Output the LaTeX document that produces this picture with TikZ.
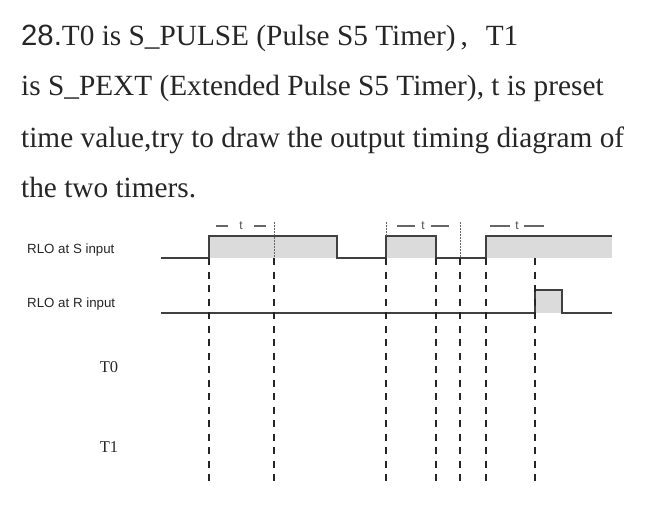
\documentclass[tikz,border=0pt]{standalone}
\usepackage{fontspec}
\setmainfont{Liberation Serif}
\newfontfamily\sansfont{Liberation Sans}
\usetikzlibrary{positioning}

\tikzset{
  sig/.style={line width=1.4pt, draw=black!75},
  hi/.style={fill=black!14},
  cut/.style={line width=1.8pt, draw=black!85, dash pattern=on 7pt off 6.5pt},
  tick/.style={line width=0.7pt, draw=black!60, dash pattern=on 1.5pt off 1.5pt},
  tmark/.style={line width=1.2pt, draw=black!60},
  txtline/.style={anchor=base west, inner sep=0pt, font=\fontsize{29.3}{30}\selectfont, text=black!85},
  siglabel/.style={anchor=base west, inner sep=0pt, font=\sansfont\fontsize{13.3}{14}\selectfont, text=black!85},
  outlabel/.style={inner sep=0pt, font=\fontsize{16.5}{17}\selectfont, text=black!85}
}

\begin{document}
\begin{tikzpicture}[x=1pt,y=-1pt]
\useasboundingbox (0,0) rectangle (654,528);
% question
\node[txtline] (q1) at (21,45) {{\sansfont 28.}T0 is S\_PULSE (Pulse S5 Timer)\,,\hspace{18pt}T1};
\node[txtline] (q2) at (21,95) {is S\_PEXT (Extended Pulse S5 Timer), t is preset};
\node[txtline] (q3) at (21,147) {time value,try to draw the output timing diagram of};
\node[txtline] (q4) at (21,197) {the two timers.};
% signal names
\node[siglabel] (slabel) at (27,253) {RLO at S input};
\node[siglabel] (rlabel) at (27,307) {RLO at R input};
\node[outlabel] (tzero) at (109,367.5) {T0};
\node[outlabel] (tone) at (109,447.5) {T1};
% shaded high levels
\fill[hi] (209,236) rectangle (337,258);
\fill[hi] (386,236) rectangle (436,258);
\fill[hi] (486,236) rectangle (612,258);
\fill[hi] (535,290) rectangle (562,313);
% S input
\draw[sig] (161,258) -- (209,258) -- (209,236) -- (337,236) -- (337,258) -- (386,258)
  -- (386,236) -- (436,236) -- (436,258) -- (486,258) -- (486,236) -- (612,236);
% R input
\draw[sig] (161,313) -- (535,313) -- (535,290) -- (562,290) -- (562,313) -- (612,313);
% time t
\draw[tick] (274,222) -- (274,258);
\draw[tick] (386,222) -- (386,236);
\draw[tick] (460,222) -- (460,258);
\foreach \a/\b/\c in {216/228/241, 397/415/423, 490/510/517}{
  \draw[tmark] (\a,226) -- (\b,226);
  \draw[tmark] (2*\c-\b,226) -- (2*\c-\a,226);
  \node[inner sep=0pt, font=\sansfont\fontsize{12}{12}\selectfont, text=black!70] at (\c,226) {t};
}
% instants
\foreach \x in {209,274,386,436,460,486,535}
  \draw[cut] (\x,258) -- (\x,486);
\end{tikzpicture}
\end{document}
